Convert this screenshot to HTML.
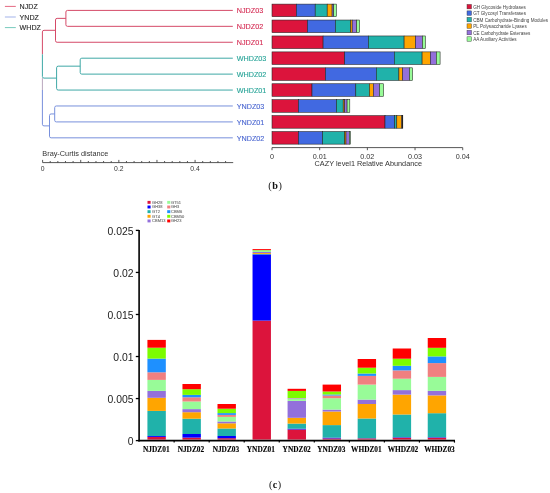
<!DOCTYPE html>
<html><head><meta charset="utf-8"><style>
html,body{margin:0;padding:0;background:#fff;width:550px;height:493px;overflow:hidden}
svg{display:block;font-family:"Liberation Sans",sans-serif;will-change:transform}
</style></head><body>
<svg width="550" height="493" viewBox="0 0 550 493">
<path d="M232.80 10.40H67.50Q65.90 10.40 65.90 12.00V24.73Q65.90 26.33 67.50 26.33H232.80" fill="none" stroke="#d54a68" stroke-width="1.0"/>
<path d="M65.90 18.36H57.10Q55.50 18.36 55.50 19.96V40.66Q55.50 42.26 57.10 42.26H232.80" fill="none" stroke="#d54a68" stroke-width="1.0"/>
<path d="M232.80 58.19H81.80Q80.20 58.19 80.20 59.79V72.52Q80.20 74.12 81.80 74.12H232.80" fill="none" stroke="#3fa8a6" stroke-width="1.0"/>
<path d="M80.20 66.16H58.20Q56.60 66.16 56.60 67.75V88.45Q56.60 90.05 58.20 90.05H232.80" fill="none" stroke="#3fa8a6" stroke-width="1.0"/>
<path d="M232.80 105.98H56.30Q54.70 105.98 54.70 107.58V120.31Q54.70 121.91 56.30 121.91H232.80" fill="none" stroke="#7890dc" stroke-width="1.0"/>
<path d="M54.70 113.94H51.10Q49.50 113.94 49.50 115.54V136.24Q49.50 137.84 51.10 137.84H232.80" fill="none" stroke="#7890dc" stroke-width="1.0"/>
<path d="M55.50 30.31H44.00Q42.4 30.31 42.4 31.91V54.3" fill="none" stroke="#d54a68" stroke-width="1.0"/>
<path d="M42.4 54.3V76.50Q42.4 78.10 44.00 78.10H56.6" fill="none" stroke="#3fa8a6" stroke-width="1.0"/>
<path d="M42.4 78.10V90" fill="none" stroke="#b9a7bd" stroke-width="1.0"/>
<path d="M42.4 90V124.29Q42.4 125.89 44.00 125.89H49.5" fill="none" stroke="#7890dc" stroke-width="1.0"/>
<line x1="4.9" y1="6.40" x2="15.8" y2="6.40" stroke="#e56a82" stroke-width="1"/>
<text x="19.6" y="9.00" font-size="7.1" fill="#2a2a2a" stroke="#2a2a2a" stroke-width="0.12">NJDZ</text>
<line x1="4.9" y1="17.00" x2="15.8" y2="17.00" stroke="#a3b3ea" stroke-width="1"/>
<text x="19.6" y="19.60" font-size="7.1" fill="#2a2a2a" stroke="#2a2a2a" stroke-width="0.12">YNDZ</text>
<line x1="4.9" y1="27.60" x2="15.8" y2="27.60" stroke="#78cbbd" stroke-width="1"/>
<text x="19.6" y="30.20" font-size="7.1" fill="#2a2a2a" stroke="#2a2a2a" stroke-width="0.12">WHDZ</text>
<text x="236.8" y="13.10" font-size="7.2" fill="#d42a52" stroke="#d42a52" stroke-width="0.12">NJDZ03</text>
<text x="236.8" y="29.03" font-size="7.2" fill="#d42a52" stroke="#d42a52" stroke-width="0.12">NJDZ02</text>
<text x="236.8" y="44.96" font-size="7.2" fill="#d42a52" stroke="#d42a52" stroke-width="0.12">NJDZ01</text>
<text x="236.8" y="60.89" font-size="7.2" fill="#26a397" stroke="#26a397" stroke-width="0.12">WHDZ03</text>
<text x="236.8" y="76.82" font-size="7.2" fill="#26a397" stroke="#26a397" stroke-width="0.12">WHDZ02</text>
<text x="236.8" y="92.75" font-size="7.2" fill="#26a397" stroke="#26a397" stroke-width="0.12">WHDZ01</text>
<text x="236.8" y="108.68" font-size="7.2" fill="#4864d0" stroke="#4864d0" stroke-width="0.12">YNDZ03</text>
<text x="236.8" y="124.61" font-size="7.2" fill="#4864d0" stroke="#4864d0" stroke-width="0.12">YNDZ01</text>
<text x="236.8" y="140.54" font-size="7.2" fill="#4864d0" stroke="#4864d0" stroke-width="0.12">YNDZ02</text>
<text x="42.3" y="156.4" font-size="7.33" fill="#333">Bray-Curtis distance</text>
<line x1="42.6" y1="162.6" x2="233.2" y2="162.6" stroke="#444" stroke-width="0.9"/>
<line x1="42.60" y1="159.90" x2="42.60" y2="162.6" stroke="#444" stroke-width="0.9"/>
<line x1="50.22" y1="161.00" x2="50.22" y2="162.6" stroke="#444" stroke-width="0.9"/>
<line x1="57.85" y1="161.00" x2="57.85" y2="162.6" stroke="#444" stroke-width="0.9"/>
<line x1="65.47" y1="161.00" x2="65.47" y2="162.6" stroke="#444" stroke-width="0.9"/>
<line x1="73.10" y1="161.00" x2="73.10" y2="162.6" stroke="#444" stroke-width="0.9"/>
<line x1="80.72" y1="159.90" x2="80.72" y2="162.6" stroke="#444" stroke-width="0.9"/>
<line x1="88.34" y1="161.00" x2="88.34" y2="162.6" stroke="#444" stroke-width="0.9"/>
<line x1="95.97" y1="161.00" x2="95.97" y2="162.6" stroke="#444" stroke-width="0.9"/>
<line x1="103.59" y1="161.00" x2="103.59" y2="162.6" stroke="#444" stroke-width="0.9"/>
<line x1="111.22" y1="161.00" x2="111.22" y2="162.6" stroke="#444" stroke-width="0.9"/>
<line x1="118.84" y1="159.90" x2="118.84" y2="162.6" stroke="#444" stroke-width="0.9"/>
<line x1="126.46" y1="161.00" x2="126.46" y2="162.6" stroke="#444" stroke-width="0.9"/>
<line x1="134.09" y1="161.00" x2="134.09" y2="162.6" stroke="#444" stroke-width="0.9"/>
<line x1="141.71" y1="161.00" x2="141.71" y2="162.6" stroke="#444" stroke-width="0.9"/>
<line x1="149.34" y1="161.00" x2="149.34" y2="162.6" stroke="#444" stroke-width="0.9"/>
<line x1="156.96" y1="159.90" x2="156.96" y2="162.6" stroke="#444" stroke-width="0.9"/>
<line x1="164.58" y1="161.00" x2="164.58" y2="162.6" stroke="#444" stroke-width="0.9"/>
<line x1="172.21" y1="161.00" x2="172.21" y2="162.6" stroke="#444" stroke-width="0.9"/>
<line x1="179.83" y1="161.00" x2="179.83" y2="162.6" stroke="#444" stroke-width="0.9"/>
<line x1="187.46" y1="161.00" x2="187.46" y2="162.6" stroke="#444" stroke-width="0.9"/>
<line x1="195.08" y1="159.90" x2="195.08" y2="162.6" stroke="#444" stroke-width="0.9"/>
<line x1="202.70" y1="161.00" x2="202.70" y2="162.6" stroke="#444" stroke-width="0.9"/>
<line x1="210.33" y1="161.00" x2="210.33" y2="162.6" stroke="#444" stroke-width="0.9"/>
<line x1="217.95" y1="161.00" x2="217.95" y2="162.6" stroke="#444" stroke-width="0.9"/>
<line x1="225.58" y1="161.00" x2="225.58" y2="162.6" stroke="#444" stroke-width="0.9"/>
<text x="42.60" y="170.5" font-size="6.8" fill="#333" text-anchor="middle">0</text>
<text x="118.84" y="170.5" font-size="6.8" fill="#333" text-anchor="middle">0.2</text>
<text x="195.08" y="170.5" font-size="6.8" fill="#333" text-anchor="middle">0.4</text>
<rect x="272.00" y="4.10" width="24.40" height="12.6" fill="#dc143c" stroke="#222" stroke-width="0.55"/>
<rect x="296.40" y="4.10" width="18.80" height="12.6" fill="#4169e1" stroke="#222" stroke-width="0.55"/>
<rect x="315.20" y="4.10" width="12.00" height="12.6" fill="#20b2aa" stroke="#222" stroke-width="0.55"/>
<rect x="327.20" y="4.10" width="4.90" height="12.6" fill="#ffa500" stroke="#222" stroke-width="0.55"/>
<rect x="332.10" y="4.10" width="1.60" height="12.6" fill="#9370db" stroke="#222" stroke-width="0.55"/>
<rect x="333.70" y="4.10" width="2.80" height="12.6" fill="#98fb98" stroke="#222" stroke-width="0.55"/>
<rect x="272.00" y="20.03" width="35.50" height="12.6" fill="#dc143c" stroke="#222" stroke-width="0.55"/>
<rect x="307.50" y="20.03" width="27.90" height="12.6" fill="#4169e1" stroke="#222" stroke-width="0.55"/>
<rect x="335.40" y="20.03" width="15.20" height="12.6" fill="#20b2aa" stroke="#222" stroke-width="0.55"/>
<rect x="350.60" y="20.03" width="1.60" height="12.6" fill="#ffa500" stroke="#222" stroke-width="0.55"/>
<rect x="352.20" y="20.03" width="4.40" height="12.6" fill="#9370db" stroke="#222" stroke-width="0.55"/>
<rect x="356.60" y="20.03" width="3.00" height="12.6" fill="#98fb98" stroke="#222" stroke-width="0.55"/>
<rect x="272.00" y="35.96" width="51.10" height="12.6" fill="#dc143c" stroke="#222" stroke-width="0.55"/>
<rect x="323.10" y="35.96" width="45.30" height="12.6" fill="#4169e1" stroke="#222" stroke-width="0.55"/>
<rect x="368.40" y="35.96" width="35.70" height="12.6" fill="#20b2aa" stroke="#222" stroke-width="0.55"/>
<rect x="404.10" y="35.96" width="11.40" height="12.6" fill="#ffa500" stroke="#222" stroke-width="0.55"/>
<rect x="415.50" y="35.96" width="6.90" height="12.6" fill="#9370db" stroke="#222" stroke-width="0.55"/>
<rect x="422.40" y="35.96" width="3.00" height="12.6" fill="#98fb98" stroke="#222" stroke-width="0.55"/>
<rect x="272.00" y="51.89" width="72.70" height="12.6" fill="#dc143c" stroke="#222" stroke-width="0.55"/>
<rect x="344.70" y="51.89" width="49.60" height="12.6" fill="#4169e1" stroke="#222" stroke-width="0.55"/>
<rect x="394.30" y="51.89" width="27.80" height="12.6" fill="#20b2aa" stroke="#222" stroke-width="0.55"/>
<rect x="422.10" y="51.89" width="8.20" height="12.6" fill="#ffa500" stroke="#222" stroke-width="0.55"/>
<rect x="430.30" y="51.89" width="6.00" height="12.6" fill="#9370db" stroke="#222" stroke-width="0.55"/>
<rect x="436.30" y="51.89" width="3.80" height="12.6" fill="#98fb98" stroke="#222" stroke-width="0.55"/>
<rect x="272.00" y="67.82" width="53.50" height="12.6" fill="#dc143c" stroke="#222" stroke-width="0.55"/>
<rect x="325.50" y="67.82" width="50.80" height="12.6" fill="#4169e1" stroke="#222" stroke-width="0.55"/>
<rect x="376.30" y="67.82" width="22.60" height="12.6" fill="#20b2aa" stroke="#222" stroke-width="0.55"/>
<rect x="398.90" y="67.82" width="3.60" height="12.6" fill="#ffa500" stroke="#222" stroke-width="0.55"/>
<rect x="402.50" y="67.82" width="7.00" height="12.6" fill="#9370db" stroke="#222" stroke-width="0.55"/>
<rect x="409.50" y="67.82" width="3.10" height="12.6" fill="#98fb98" stroke="#222" stroke-width="0.55"/>
<rect x="272.00" y="83.75" width="40.00" height="12.6" fill="#dc143c" stroke="#222" stroke-width="0.55"/>
<rect x="312.00" y="83.75" width="43.80" height="12.6" fill="#4169e1" stroke="#222" stroke-width="0.55"/>
<rect x="355.80" y="83.75" width="13.60" height="12.6" fill="#20b2aa" stroke="#222" stroke-width="0.55"/>
<rect x="369.40" y="83.75" width="3.90" height="12.6" fill="#ffa500" stroke="#222" stroke-width="0.55"/>
<rect x="373.30" y="83.75" width="6.20" height="12.6" fill="#9370db" stroke="#222" stroke-width="0.55"/>
<rect x="379.50" y="83.75" width="4.10" height="12.6" fill="#98fb98" stroke="#222" stroke-width="0.55"/>
<rect x="272.00" y="99.68" width="26.50" height="12.6" fill="#dc143c" stroke="#222" stroke-width="0.55"/>
<rect x="298.50" y="99.68" width="38.00" height="12.6" fill="#4169e1" stroke="#222" stroke-width="0.55"/>
<rect x="336.50" y="99.68" width="6.70" height="12.6" fill="#20b2aa" stroke="#222" stroke-width="0.55"/>
<rect x="343.20" y="99.68" width="1.50" height="12.6" fill="#ffa500" stroke="#222" stroke-width="0.55"/>
<rect x="344.70" y="99.68" width="2.40" height="12.6" fill="#9370db" stroke="#222" stroke-width="0.55"/>
<rect x="347.10" y="99.68" width="2.70" height="12.6" fill="#98fb98" stroke="#222" stroke-width="0.55"/>
<rect x="272.00" y="115.61" width="113.00" height="12.6" fill="#dc143c" stroke="#222" stroke-width="0.55"/>
<rect x="385.00" y="115.61" width="9.70" height="12.6" fill="#4169e1" stroke="#222" stroke-width="0.55"/>
<rect x="394.70" y="115.61" width="2.10" height="12.6" fill="#20b2aa" stroke="#222" stroke-width="0.55"/>
<rect x="396.80" y="115.61" width="5.00" height="12.6" fill="#ffa500" stroke="#222" stroke-width="0.55"/>
<rect x="401.80" y="115.61" width="0.50" height="12.6" fill="#9370db" stroke="#222" stroke-width="0.55"/>
<rect x="402.30" y="115.61" width="0.50" height="12.6" fill="#98fb98" stroke="#222" stroke-width="0.55"/>
<rect x="272.00" y="131.54" width="26.50" height="12.6" fill="#dc143c" stroke="#222" stroke-width="0.55"/>
<rect x="298.50" y="131.54" width="24.10" height="12.6" fill="#4169e1" stroke="#222" stroke-width="0.55"/>
<rect x="322.60" y="131.54" width="22.10" height="12.6" fill="#20b2aa" stroke="#222" stroke-width="0.55"/>
<rect x="344.70" y="131.54" width="1.30" height="12.6" fill="#ffa500" stroke="#222" stroke-width="0.55"/>
<rect x="346.00" y="131.54" width="3.30" height="12.6" fill="#9370db" stroke="#222" stroke-width="0.55"/>
<rect x="349.30" y="131.54" width="1.10" height="12.6" fill="#98fb98" stroke="#222" stroke-width="0.55"/>
<line x1="272" y1="147.6" x2="462.7" y2="147.6" stroke="#444" stroke-width="0.9"/>
<line x1="272.0" y1="147.6" x2="272.0" y2="150.2" stroke="#444" stroke-width="0.9"/>
<text x="272.0" y="158.5" font-size="7.2" fill="#333" text-anchor="middle">0</text>
<line x1="319.68" y1="147.6" x2="319.68" y2="150.2" stroke="#444" stroke-width="0.9"/>
<text x="319.68" y="158.5" font-size="7.2" fill="#333" text-anchor="middle">0.01</text>
<line x1="367.36" y1="147.6" x2="367.36" y2="150.2" stroke="#444" stroke-width="0.9"/>
<text x="367.36" y="158.5" font-size="7.2" fill="#333" text-anchor="middle">0.02</text>
<line x1="415.03999999999996" y1="147.6" x2="415.03999999999996" y2="150.2" stroke="#444" stroke-width="0.9"/>
<text x="415.03999999999996" y="158.5" font-size="7.2" fill="#333" text-anchor="middle">0.03</text>
<line x1="462.72" y1="147.6" x2="462.72" y2="150.2" stroke="#444" stroke-width="0.9"/>
<text x="462.72" y="158.5" font-size="7.2" fill="#333" text-anchor="middle">0.04</text>
<text x="314.6" y="165.6" font-size="7.3" fill="#333">CAZY level1 Relative Abundance</text>
<rect x="467" y="4.40" width="4.5" height="4.5" fill="#dc143c" stroke="#333" stroke-width="0.4"/>
<text x="473.2" y="8.70" font-size="4.6" fill="#444">GH Glycoside Hydrolases</text>
<rect x="467" y="10.88" width="4.5" height="4.5" fill="#4169e1" stroke="#333" stroke-width="0.4"/>
<text x="473.2" y="15.18" font-size="4.6" fill="#444">GT Glycosyl Transferases</text>
<rect x="467" y="17.36" width="4.5" height="4.5" fill="#20b2aa" stroke="#333" stroke-width="0.4"/>
<text x="473.2" y="21.66" font-size="4.6" fill="#444">CBM Carbohydrate-Binding Modules</text>
<rect x="467" y="23.84" width="4.5" height="4.5" fill="#ffa500" stroke="#333" stroke-width="0.4"/>
<text x="473.2" y="28.14" font-size="4.6" fill="#444">PL Polysaccharide Lyases</text>
<rect x="467" y="30.32" width="4.5" height="4.5" fill="#9370db" stroke="#333" stroke-width="0.4"/>
<text x="473.2" y="34.62" font-size="4.6" fill="#444">CE Carbohydrate Esterases</text>
<rect x="467" y="36.80" width="4.5" height="4.5" fill="#98fb98" stroke="#333" stroke-width="0.4"/>
<text x="473.2" y="41.10" font-size="4.6" fill="#444">AA Auxiliary Activities</text>
<text x="268.3" y="188.9" font-size="10.2" font-family="Liberation Serif" font-weight="bold" fill="#111" letter-spacing="0.5"><tspan font-weight="normal">(</tspan>b<tspan font-weight="normal">)</tspan></text>
<text x="268.9" y="487.6" font-size="10.2" font-family="Liberation Serif" font-weight="bold" fill="#111" letter-spacing="0.5"><tspan font-weight="normal">(</tspan>c<tspan font-weight="normal">)</tspan></text>
<rect x="147.42" y="436.90" width="18.4" height="2.70" fill="#dc143c"/>
<rect x="147.42" y="436.00" width="18.4" height="0.90" fill="#0000ff"/>
<rect x="147.42" y="410.90" width="18.4" height="25.10" fill="#20b2aa"/>
<rect x="147.42" y="397.80" width="18.4" height="13.10" fill="#ffa500"/>
<rect x="147.42" y="390.90" width="18.4" height="6.90" fill="#9370db"/>
<rect x="147.42" y="379.90" width="18.4" height="11.00" fill="#98fb98"/>
<rect x="147.42" y="372.30" width="18.4" height="7.60" fill="#f08080"/>
<rect x="147.42" y="358.60" width="18.4" height="13.70" fill="#1e90ff"/>
<rect x="147.42" y="347.70" width="18.4" height="10.90" fill="#7cfc00"/>
<rect x="147.42" y="339.90" width="18.4" height="7.80" fill="#ff0000"/>
<text x="156.30" y="451.8" font-size="7.35" font-family="Liberation Serif" font-weight="bold" fill="#000" stroke="#000" stroke-width="0.12" text-anchor="middle">NJDZ01</text>
<rect x="182.46" y="437.60" width="18.4" height="2.00" fill="#dc143c"/>
<rect x="182.46" y="434.00" width="18.4" height="3.60" fill="#0000ff"/>
<rect x="182.46" y="418.70" width="18.4" height="15.30" fill="#20b2aa"/>
<rect x="182.46" y="412.20" width="18.4" height="6.50" fill="#ffa500"/>
<rect x="182.46" y="409.10" width="18.4" height="3.10" fill="#9370db"/>
<rect x="182.46" y="401.50" width="18.4" height="7.60" fill="#98fb98"/>
<rect x="182.46" y="397.30" width="18.4" height="4.20" fill="#f08080"/>
<rect x="182.46" y="394.90" width="18.4" height="2.40" fill="#1e90ff"/>
<rect x="182.46" y="389.20" width="18.4" height="5.70" fill="#7cfc00"/>
<rect x="182.46" y="384.00" width="18.4" height="5.20" fill="#ff0000"/>
<text x="190.90" y="451.8" font-size="7.35" font-family="Liberation Serif" font-weight="bold" fill="#000" stroke="#000" stroke-width="0.12" text-anchor="middle">NJDZ02</text>
<rect x="217.50" y="438.20" width="18.4" height="1.40" fill="#dc143c"/>
<rect x="217.50" y="436.00" width="18.4" height="2.20" fill="#0000ff"/>
<rect x="217.50" y="428.50" width="18.4" height="7.50" fill="#20b2aa"/>
<rect x="217.50" y="423.30" width="18.4" height="5.20" fill="#ffa500"/>
<rect x="217.50" y="421.50" width="18.4" height="1.80" fill="#9370db"/>
<rect x="217.50" y="416.90" width="18.4" height="4.60" fill="#98fb98"/>
<rect x="217.50" y="414.90" width="18.4" height="2.00" fill="#f08080"/>
<rect x="217.50" y="413.10" width="18.4" height="1.80" fill="#1e90ff"/>
<rect x="217.50" y="408.70" width="18.4" height="4.40" fill="#7cfc00"/>
<rect x="217.50" y="404.00" width="18.4" height="4.70" fill="#ff0000"/>
<text x="225.90" y="451.8" font-size="7.35" font-family="Liberation Serif" font-weight="bold" fill="#000" stroke="#000" stroke-width="0.12" text-anchor="middle">NJDZ03</text>
<rect x="252.54" y="320.60" width="18.4" height="119.00" fill="#dc143c"/>
<rect x="252.54" y="254.40" width="18.4" height="66.20" fill="#0000ff"/>
<rect x="252.54" y="253.90" width="18.4" height="0.50" fill="#20b2aa"/>
<rect x="252.54" y="253.00" width="18.4" height="0.90" fill="#ffa500"/>
<rect x="252.54" y="252.00" width="18.4" height="1.00" fill="#9370db"/>
<rect x="252.54" y="251.00" width="18.4" height="1.00" fill="#98fb98"/>
<rect x="252.54" y="250.70" width="18.4" height="0.30" fill="#f08080"/>
<rect x="252.54" y="250.50" width="18.4" height="0.20" fill="#1e90ff"/>
<rect x="252.54" y="250.00" width="18.4" height="0.50" fill="#7cfc00"/>
<rect x="252.54" y="249.10" width="18.4" height="0.90" fill="#ff0000"/>
<text x="260.90" y="451.8" font-size="7.35" font-family="Liberation Serif" font-weight="bold" fill="#000" stroke="#000" stroke-width="0.12" text-anchor="middle">YNDZ01</text>
<rect x="287.58" y="429.50" width="18.4" height="10.10" fill="#dc143c"/>
<rect x="287.58" y="428.70" width="18.4" height="0.80" fill="#0000ff"/>
<rect x="287.58" y="423.60" width="18.4" height="5.10" fill="#20b2aa"/>
<rect x="287.58" y="417.80" width="18.4" height="5.80" fill="#ffa500"/>
<rect x="287.58" y="400.90" width="18.4" height="16.90" fill="#9370db"/>
<rect x="287.58" y="398.70" width="18.4" height="2.20" fill="#98fb98"/>
<rect x="287.58" y="398.20" width="18.4" height="0.50" fill="#f08080"/>
<rect x="287.58" y="398.00" width="18.4" height="0.20" fill="#1e90ff"/>
<rect x="287.58" y="390.90" width="18.4" height="7.10" fill="#7cfc00"/>
<rect x="287.58" y="388.80" width="18.4" height="2.10" fill="#ff0000"/>
<text x="296.70" y="451.8" font-size="7.35" font-family="Liberation Serif" font-weight="bold" fill="#000" stroke="#000" stroke-width="0.12" text-anchor="middle">YNDZ02</text>
<rect x="322.62" y="438.40" width="18.4" height="1.20" fill="#dc143c"/>
<rect x="322.62" y="437.60" width="18.4" height="0.80" fill="#0000ff"/>
<rect x="322.62" y="425.10" width="18.4" height="12.50" fill="#20b2aa"/>
<rect x="322.62" y="411.50" width="18.4" height="13.60" fill="#ffa500"/>
<rect x="322.62" y="409.60" width="18.4" height="1.90" fill="#9370db"/>
<rect x="322.62" y="398.20" width="18.4" height="11.40" fill="#98fb98"/>
<rect x="322.62" y="395.50" width="18.4" height="2.70" fill="#f08080"/>
<rect x="322.62" y="394.50" width="18.4" height="1.00" fill="#1e90ff"/>
<rect x="322.62" y="391.50" width="18.4" height="3.00" fill="#7cfc00"/>
<rect x="322.62" y="384.60" width="18.4" height="6.90" fill="#ff0000"/>
<text x="331.40" y="451.8" font-size="7.35" font-family="Liberation Serif" font-weight="bold" fill="#000" stroke="#000" stroke-width="0.12" text-anchor="middle">YNDZ03</text>
<rect x="357.66" y="438.40" width="18.4" height="1.20" fill="#dc143c"/>
<rect x="357.66" y="438.20" width="18.4" height="0.20" fill="#0000ff"/>
<rect x="357.66" y="418.50" width="18.4" height="19.70" fill="#20b2aa"/>
<rect x="357.66" y="404.00" width="18.4" height="14.50" fill="#ffa500"/>
<rect x="357.66" y="399.60" width="18.4" height="4.40" fill="#9370db"/>
<rect x="357.66" y="384.60" width="18.4" height="15.00" fill="#98fb98"/>
<rect x="357.66" y="375.90" width="18.4" height="8.70" fill="#f08080"/>
<rect x="357.66" y="373.50" width="18.4" height="2.40" fill="#1e90ff"/>
<rect x="357.66" y="367.70" width="18.4" height="5.80" fill="#7cfc00"/>
<rect x="357.66" y="359.00" width="18.4" height="8.70" fill="#ff0000"/>
<text x="366.40" y="451.8" font-size="7.35" font-family="Liberation Serif" font-weight="bold" fill="#000" stroke="#000" stroke-width="0.12" text-anchor="middle">WHDZ01</text>
<rect x="392.70" y="437.70" width="18.4" height="1.90" fill="#dc143c"/>
<rect x="392.70" y="437.20" width="18.4" height="0.50" fill="#0000ff"/>
<rect x="392.70" y="414.50" width="18.4" height="22.70" fill="#20b2aa"/>
<rect x="392.70" y="394.60" width="18.4" height="19.90" fill="#ffa500"/>
<rect x="392.70" y="390.10" width="18.4" height="4.50" fill="#9370db"/>
<rect x="392.70" y="378.70" width="18.4" height="11.40" fill="#98fb98"/>
<rect x="392.70" y="370.40" width="18.4" height="8.30" fill="#f08080"/>
<rect x="392.70" y="365.80" width="18.4" height="4.60" fill="#1e90ff"/>
<rect x="392.70" y="358.70" width="18.4" height="7.10" fill="#7cfc00"/>
<rect x="392.70" y="348.50" width="18.4" height="10.20" fill="#ff0000"/>
<text x="403.00" y="451.8" font-size="7.35" font-family="Liberation Serif" font-weight="bold" fill="#000" stroke="#000" stroke-width="0.12" text-anchor="middle">WHDZ02</text>
<rect x="427.74" y="437.70" width="18.4" height="1.90" fill="#dc143c"/>
<rect x="427.74" y="437.20" width="18.4" height="0.50" fill="#0000ff"/>
<rect x="427.74" y="413.20" width="18.4" height="24.00" fill="#20b2aa"/>
<rect x="427.74" y="395.40" width="18.4" height="17.80" fill="#ffa500"/>
<rect x="427.74" y="390.80" width="18.4" height="4.60" fill="#9370db"/>
<rect x="427.74" y="376.90" width="18.4" height="13.90" fill="#98fb98"/>
<rect x="427.74" y="363.10" width="18.4" height="13.80" fill="#f08080"/>
<rect x="427.74" y="356.40" width="18.4" height="6.70" fill="#1e90ff"/>
<rect x="427.74" y="347.80" width="18.4" height="8.60" fill="#7cfc00"/>
<rect x="427.74" y="338.00" width="18.4" height="9.80" fill="#ff0000"/>
<text x="439.50" y="451.8" font-size="7.35" font-family="Liberation Serif" font-weight="bold" fill="#000" stroke="#000" stroke-width="0.12" text-anchor="middle">WHDZ03</text>
<line x1="139.1" y1="229.9" x2="139.1" y2="441.4" stroke="#000" stroke-width="1.6"/>
<line x1="138.3" y1="440.6" x2="455.0" y2="440.6" stroke="#000" stroke-width="1.6"/>
<line x1="135.8" y1="440.60" x2="139.1" y2="440.60" stroke="#000" stroke-width="1.3"/>
<text x="133.6" y="445.10" font-size="10.4" fill="#222" text-anchor="end">0</text>
<line x1="135.8" y1="398.56" x2="139.1" y2="398.56" stroke="#000" stroke-width="1.3"/>
<text x="133.6" y="403.06" font-size="10.4" fill="#222" text-anchor="end">0.005</text>
<line x1="135.8" y1="356.52" x2="139.1" y2="356.52" stroke="#000" stroke-width="1.3"/>
<text x="133.6" y="361.02" font-size="10.4" fill="#222" text-anchor="end">0.01</text>
<line x1="135.8" y1="314.48" x2="139.1" y2="314.48" stroke="#000" stroke-width="1.3"/>
<text x="133.6" y="318.98" font-size="10.4" fill="#222" text-anchor="end">0.015</text>
<line x1="135.8" y1="272.44" x2="139.1" y2="272.44" stroke="#000" stroke-width="1.3"/>
<text x="133.6" y="276.94" font-size="10.4" fill="#222" text-anchor="end">0.02</text>
<line x1="135.8" y1="230.40" x2="139.1" y2="230.40" stroke="#000" stroke-width="1.3"/>
<text x="133.6" y="234.90" font-size="10.4" fill="#222" text-anchor="end">0.025</text>
<line x1="174.14" y1="440.6" x2="174.14" y2="442.6" stroke="#000" stroke-width="1.2"/>
<line x1="209.18" y1="440.6" x2="209.18" y2="442.6" stroke="#000" stroke-width="1.2"/>
<line x1="244.22" y1="440.6" x2="244.22" y2="442.6" stroke="#000" stroke-width="1.2"/>
<line x1="279.26" y1="440.6" x2="279.26" y2="442.6" stroke="#000" stroke-width="1.2"/>
<line x1="314.30" y1="440.6" x2="314.30" y2="442.6" stroke="#000" stroke-width="1.2"/>
<line x1="349.34" y1="440.6" x2="349.34" y2="442.6" stroke="#000" stroke-width="1.2"/>
<line x1="384.38" y1="440.6" x2="384.38" y2="442.6" stroke="#000" stroke-width="1.2"/>
<line x1="419.42" y1="440.6" x2="419.42" y2="442.6" stroke="#000" stroke-width="1.2"/>
<line x1="454.46" y1="440.6" x2="454.46" y2="442.6" stroke="#000" stroke-width="1.2"/>
<rect x="147.5" y="200.90" width="3.1" height="2.9" fill="#dc143c"/>
<text x="152.10" y="203.70" font-size="4.0" fill="#555" stroke="#888" stroke-width="0.1">GH28</text>
<rect x="147.5" y="205.55" width="3.1" height="2.9" fill="#0000ff"/>
<text x="152.10" y="208.35" font-size="4.0" fill="#555" stroke="#888" stroke-width="0.1">GH38</text>
<rect x="147.5" y="210.20" width="3.1" height="2.9" fill="#20b2aa"/>
<text x="152.10" y="213.00" font-size="4.0" fill="#555" stroke="#888" stroke-width="0.1">GT2</text>
<rect x="147.5" y="214.85" width="3.1" height="2.9" fill="#ffa500"/>
<text x="152.10" y="217.65" font-size="4.0" fill="#555" stroke="#888" stroke-width="0.1">GT4</text>
<rect x="147.5" y="219.50" width="3.1" height="2.9" fill="#9370db"/>
<text x="152.10" y="222.30" font-size="4.0" fill="#555" stroke="#888" stroke-width="0.1">CBM13</text>
<rect x="167.2" y="200.90" width="3.1" height="2.9" fill="#98fb98"/>
<text x="171.00" y="203.70" font-size="4.0" fill="#555" stroke="#888" stroke-width="0.1">GT51</text>
<rect x="167.2" y="205.55" width="3.1" height="2.9" fill="#f08080"/>
<text x="171.00" y="208.35" font-size="4.0" fill="#555" stroke="#888" stroke-width="0.1">GH3</text>
<rect x="167.2" y="210.20" width="3.1" height="2.9" fill="#1e90ff"/>
<text x="171.00" y="213.00" font-size="4.0" fill="#555" stroke="#888" stroke-width="0.1">CBM6</text>
<rect x="167.2" y="214.85" width="3.1" height="2.9" fill="#7cfc00"/>
<text x="171.00" y="217.65" font-size="4.0" fill="#555" stroke="#888" stroke-width="0.1">CBM50</text>
<rect x="167.2" y="219.50" width="3.1" height="2.9" fill="#ff0000"/>
<text x="171.00" y="222.30" font-size="4.0" fill="#555" stroke="#888" stroke-width="0.1">GH23</text>
</svg>
</body></html>
